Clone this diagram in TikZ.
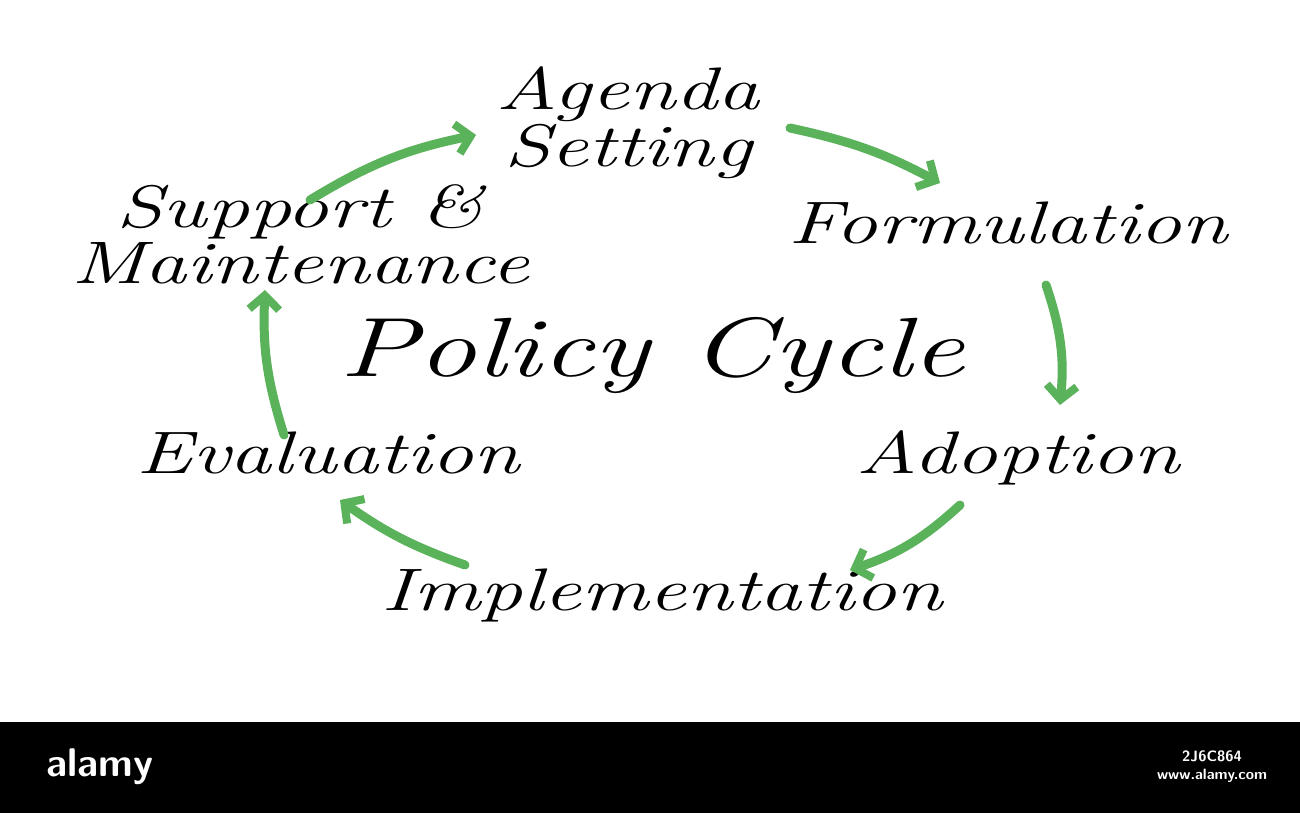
\documentclass[tikz,border=0pt]{standalone}
\usepackage{fontspec}
\usetikzlibrary{arrows.meta}
\definecolor{arrgreen}{RGB}{90,178,90}
\newcommand\widetxt[1]{\scalebox{1.4}[1]{\begin{tabular}{@{}c@{}}#1\end{tabular}}}
\tikzset{
 lbl/.style={font=\fontsize{60}{50}\selectfont\itshape, inner sep=0pt},
 cyc/.style={draw=arrgreen, line width=9pt, line cap=round, -{Straight Barb[length=14pt,width=30pt,line width=8pt]}}
}
\begin{document}
\begin{tikzpicture}[x=1pt,y=-1pt]
\useasboundingbox (0,0) rectangle (1300,813);
\fill[white] (0,0) rectangle (1300,722);
\fill[black] (0,722) rectangle (1300,813);
\node[lbl] (agenda) at (628,124) {\widetxt{Agenda\\Setting}};
\node[lbl] (form) at (1008,230) {\widetxt{Formulation}};
\node[lbl] (adopt) at (1018,460) {\widetxt{Adoption}};
\node[lbl] (impl) at (662,597) {\widetxt{Implementation}};
\node[lbl] (eval) at (328,460) {\widetxt{Evaluation}};
\node[lbl] (supp) at (300,242) {\widetxt{Support \&\\Maintenance}};
\node[lbl, font=\fontsize{84}{90}\selectfont\itshape] (title) at (652,358) {\widetxt{Policy Cycle}};
\coordinate (a1) at (310,200); \coordinate (a2) at (476,135);
\coordinate (b1) at (790,128); \coordinate (b2) at (940,183);
\coordinate (c1) at (1046,285); \coordinate (c2) at (1060,405);
\coordinate (d1) at (960,505); \coordinate (d2) at (850,570);
\coordinate (e1) at (465,565); \coordinate (e2) at (340,500);
\coordinate (f1) at (284,435); \coordinate (f2) at (265,290);
\draw[cyc] (a1) to[bend left=10] (a2);
\draw[cyc] (b1) to[bend left=8] (b2);
\draw[cyc] (c1) to[bend left=12] (c2);
\draw[cyc] (d1) to[bend left=12] (d2);
\draw[cyc] (e1) to[bend left=8] (e2);
\draw[cyc] (f1) to[bend left=10] (f2);
\node[text=white, font=\fontsize{40}{40}\selectfont\bfseries\sffamily, inner sep=0pt] (alamy) at (100,767) {alamy};
\node[text=white, font=\fontsize{15}{18}\selectfont\bfseries\sffamily, align=center, inner sep=0pt] (id) at (1212,767) {2J6C864\\www.alamy.com};
\end{tikzpicture}
\end{document}
